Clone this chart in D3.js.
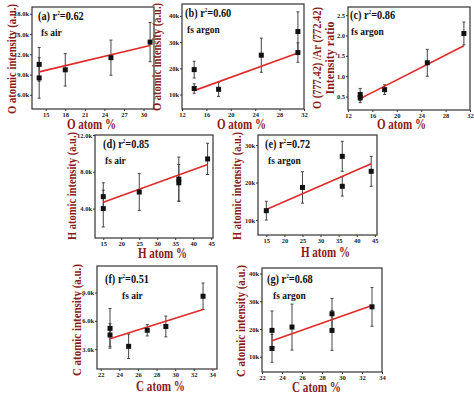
<!DOCTYPE html>
<html>
<head>
<meta charset="utf-8">
<script src="https://cdn.jsdelivr.net/npm/d3@7"></script>
<style>
  body { margin: 0; background: #fff; }
  svg text { font-family: "Liberation Serif", "DejaVu Serif", "Times New Roman", serif; font-weight: bold; }
  .tick text { font-size: 6.5px; fill: #222; font-family: "Liberation Serif", "DejaVu Serif", serif; }
  .axisTitle { fill: #8b1a1a; }
</style>
</head>
<body>
<div id="chart"></div>
<script>
// values (intensities in thousands, "k")
var aX = [14, 14, 18, 25, 31], aY = [10.5, 8.5, 9.7, 11.5, 13.8], aErr = [2.5, 3.0, 2.4, 2.6, 2.9];
var aFit = [[14, 9.4], [31, 13.3]];
var bX = [14, 14, 18, 25, 31, 31], bY = [19.5, 12.3, 12, 25, 34, 26], bErr = [3.2, 1.8, 2.7, 6.5, 7.5, 3.7];
var bFit = [[14, 11.5], [31, 25.8]];
var cX = [14, 14, 18, 25, 31], cY = [0.55, 0.47, 0.67, 1.33, 2.05], cErr = [0.15, 0.12, 0.12, 0.33, 0.28];
var cFit = [[14, 0.45], [31, 1.75]];
var dX = [15, 15, 25, 36, 36, 44], dY = [5.3, 4.0, 5.8, 7.2, 6.8, 9.4], dErr = [1.5, 2.0, 2.0, 2.4, 2.0, 1.7];
var dFit = [[15, 4.7], [44, 8.8]];
var eX = [15, 25, 36, 36, 44], eY = [12.5, 18.7, 27, 19, 23], eErr = [2.5, 4.2, 4, 2.6, 4];
var eFit = [[15, 12.8], [44, 25]];
var fX = [23, 23, 25, 27, 29, 33], fY = [5.2, 4.5, 3.3, 5.0, 5.4, 8.6], fErr = [2.1, 1.2, 1.3, 0.6, 1.1, 1.4];
var fFit = [[23, 4.1], [33, 7.2]];
var gX = [23, 23, 25, 29, 29, 33], gY = [19.5, 13, 20.7, 25.5, 19.5, 28], gErr = [7, 5, 8.3, 5.5, 7.2, 7];
var gFit = [[23, 15.8], [33, 28.5]];

var xTicksA = [15, 18, 21, 24, 27, 30];
var xTicksBC = [12, 16, 20, 24, 28, 32];
var xTicksDE = [15, 20, 25, 30, 35, 40, 45];
var xTicksFG = [22, 24, 26, 28, 30, 32, 34];
var yTicksA = [6, 9, 12, 15, 18];
var yTicksB = [10, 20, 30, 40];
var yTicksC = [0.5, 1.0, 1.5, 2.0, 2.5];
var yTicksD = [4, 8, 12];
var yTicksE = [10, 20, 30];
var yTicksF = [3, 6, 9];
var yTicksG = [10, 20, 30, 40];

var svg = d3.select("#chart").append("svg")
    .attr("width", 474)
    .attr("height", 394);

function panel(p) {
  var x = d3.scaleLinear().domain(p.xd).range([p.l, p.r]);
  var y = d3.scaleLinear().domain(p.yd).range([p.b, p.t]);
  var g = svg.append("g");

  g.append("rect")
    .attr("x", p.l).attr("y", p.t)
    .attr("width", p.r - p.l).attr("height", p.b - p.t)
    .attr("fill", "none").attr("stroke", "#333").attr("stroke-width", 1.2);

  var xa = g.append("g")
    .attr("transform", "translate(0," + p.b + ")")
    .call(d3.axisBottom(x).tickValues(p.xt).tickSize(2).tickPadding(1).tickFormat(d3.format("d")));
  var ya = g.append("g")
    .attr("transform", "translate(" + p.l + ",0)")
    .call(d3.axisLeft(y).tickValues(p.yt).tickSize(2).tickPadding(1).tickFormat(p.yf));
  xa.select(".domain").remove();
  ya.select(".domain").remove();
  g.selectAll(".tick line").attr("stroke", "#333");

  // error bars
  g.selectAll(".err")
    .data(p.xs)
    .enter().append("line")
    .attr("x1", function(d) { return x(d); })
    .attr("x2", function(d) { return x(d); })
    .attr("y1", function(d, i) { return y(p.ys[i] - p.es[i]); })
    .attr("y2", function(d, i) { return y(p.ys[i] + p.es[i]); })
    .attr("stroke", "#444").attr("stroke-width", 1);
  g.selectAll(".cap")
    .data(p.xs.concat(p.xs))
    .enter().append("line")
    .attr("x1", function(d) { return x(d) - 1.5; })
    .attr("x2", function(d) { return x(d) + 1.5; })
    .attr("y1", function(d, i) { var k = i % p.xs.length; return y(i < p.xs.length ? p.ys[k] - p.es[k] : p.ys[k] + p.es[k]); })
    .attr("y2", function(d, i) { var k = i % p.xs.length; return y(i < p.xs.length ? p.ys[k] - p.es[k] : p.ys[k] + p.es[k]); })
    .attr("stroke", "#444").attr("stroke-width", 1);

  // linear fit
  g.append("line")
    .attr("x1", x(p.fit[0][0])).attr("y1", y(p.fit[0][1]))
    .attr("x2", x(p.fit[1][0])).attr("y2", y(p.fit[1][1]))
    .attr("stroke", "#e02a2a").attr("stroke-width", 1.6);

  g.selectAll(".pt")
    .data(p.xs)
    .enter().append("rect")
    .attr("x", function(d) { return x(d) - 2.5; })
    .attr("y", function(d, i) { return y(p.ys[i]) - 2.5; })
    .attr("width", 5).attr("height", 5)
    .attr("fill", "#111");

  // annotation (squeezed horizontally like the source image)
  var t = g.append("text")
    .attr("transform", "translate(" + p.ax + "," + p.ay + ") scale(0.86,1)")
    .style("font-size", "12px").attr("fill", "#111");
  t.append("tspan").text(p.tag + " r");
  t.append("tspan").attr("dy", -5).style("font-size", "6px").text("2");
  t.append("tspan").attr("dy", 5).text("=" + p.r2);
  g.append("text")
    .attr("transform", "translate(" + (p.ax + p.fx) + "," + (p.ay + 16) + ") scale(0.86,1)")
    .style("font-size", "11px").attr("fill", "#111").text(p.fs);

  // axis titles
  g.append("text").attr("class", "axisTitle")
    .attr("x", p.xlx - 24).attr("y", p.xly + 1)
    .attr("textLength", 49).attr("lengthAdjust", "spacingAndGlyphs")
    .style("font-size", "15px")
    .text(p.xl);
  p.yl.forEach(function(s, i) {
    g.append("text").attr("class", "axisTitle")
      .attr("transform", "translate(" + (p.ylx[i] + 1) + "," + (p.yly + p.yll[i] / 2) + ") rotate(-90)")
      .attr("textLength", p.yll[i]).attr("lengthAdjust", "spacingAndGlyphs")
      .style("font-size", "13px")
      .text(s);
  });
}

var fk1 = function(d) { return d3.format(".1f")(d) + "k"; };
var fk0 = function(d) { return d + "k"; };

panel({l: 32, r: 154, t: 7, b: 109, xd: [12.9, 31.6], yd: [3.9, 19.0], xt: xTicksA, yt: yTicksA, yf: fk1,
  xs: aX, ys: aY, es: aErr, fit: aFit, tag: "(a)", r2: "0.62", fs: "fs air", ax: 38, ay: 20, fx: 3,
  xl: "O atom %", xlx: 91, xly: 128, yl: ["O atomic intensity (a.u.)"], ylx: [15], yly: 59, yll: [110]});
panel({l: 182, r: 304, t: 4, b: 109, xd: [12, 32], yd: [4.5, 44.5], xt: xTicksBC, yt: yTicksB, yf: fk0,
  xs: bX, ys: bY, es: bErr, fit: bFit, tag: "(b)", r2: "0.60", fs: "fs argon", ax: 185, ay: 17, fx: 2,
  xl: "O atom %", xlx: 241, xly: 128, yl: ["O atomic intensity (a.u.)"], ylx: [160], yly: 57, yll: [108]});
panel({l: 348, r: 470, t: 7, b: 110, xd: [12, 32], yd: [0.17, 2.7], xt: xTicksBC, yt: yTicksC, yf: d3.format(".1f"),
  xs: cX, ys: cY, es: cErr, fit: cFit, tag: "(c)", r2: "0.86", fs: "fs argon", ax: 350, ay: 19, fx: 1,
  xl: "O atom %", xlx: 401, xly: 128, yl: ["O (777.42) /Ar (772.42)", "Intensity ratio"], ylx: [320, 333], yly: 58, yll: [102, 73]});
panel({l: 95, r: 213, t: 135, b: 238, xd: [12.7, 45.5], yd: [0.8, 12], xt: xTicksDE, yt: yTicksD, yf: fk1,
  xs: dX, ys: dY, es: dErr, fit: dFit, tag: "(d)", r2: "0.85", fs: "fs air", ax: 103, ay: 148, fx: 2,
  xl: "H atom %", xlx: 162, xly: 257, yl: ["H atomic intensity (a.u.)"], ylx: [75], yly: 186, yll: [108]});
panel({l: 258, r: 377, t: 135, b: 235, xd: [12.7, 45.6], yd: [6, 32.7], xt: xTicksDE, yt: yTicksE, yf: fk0,
  xs: eX, ys: eY, es: eErr, fit: eFit, tag: "(e)", r2: "0.72", fs: "fs argon", ax: 265, ay: 148, fx: 3,
  xl: "H atom %", xlx: 325, xly: 256, yl: ["H atomic intensity (a.u.)"], ylx: [240], yly: 186, yll: [108]});
panel({l: 97, r: 217, t: 266, b: 369, xd: [21.6, 34.5], yd: [0.9, 11.8], xt: xTicksFG, yt: yTicksF, yf: fk1,
  xs: fX, ys: fY, es: fErr, fit: fFit, tag: "(f)", r2: "0.51", fs: "fs air", ax: 105, ay: 283, fx: 17,
  xl: "C atom %", xlx: 160, xly: 390, yl: ["C atomic intensity (a.u.)"], ylx: [80], yly: 320, yll: [112]});
panel({l: 262, r: 382, t: 268, b: 372, xd: [22, 34], yd: [4.5, 42], xt: xTicksFG, yt: yTicksG, yf: fk0,
  xs: gX, ys: gY, es: gErr, fit: gFit, tag: "(g)", r2: "0.68", fs: "fs argon", ax: 267, ay: 283, fx: 6,
  xl: "C atom %", xlx: 316, xly: 391, yl: ["C atomic intensity (a.u.)"], ylx: [244], yly: 321, yll: [112]});
</script>
</body>
</html>
